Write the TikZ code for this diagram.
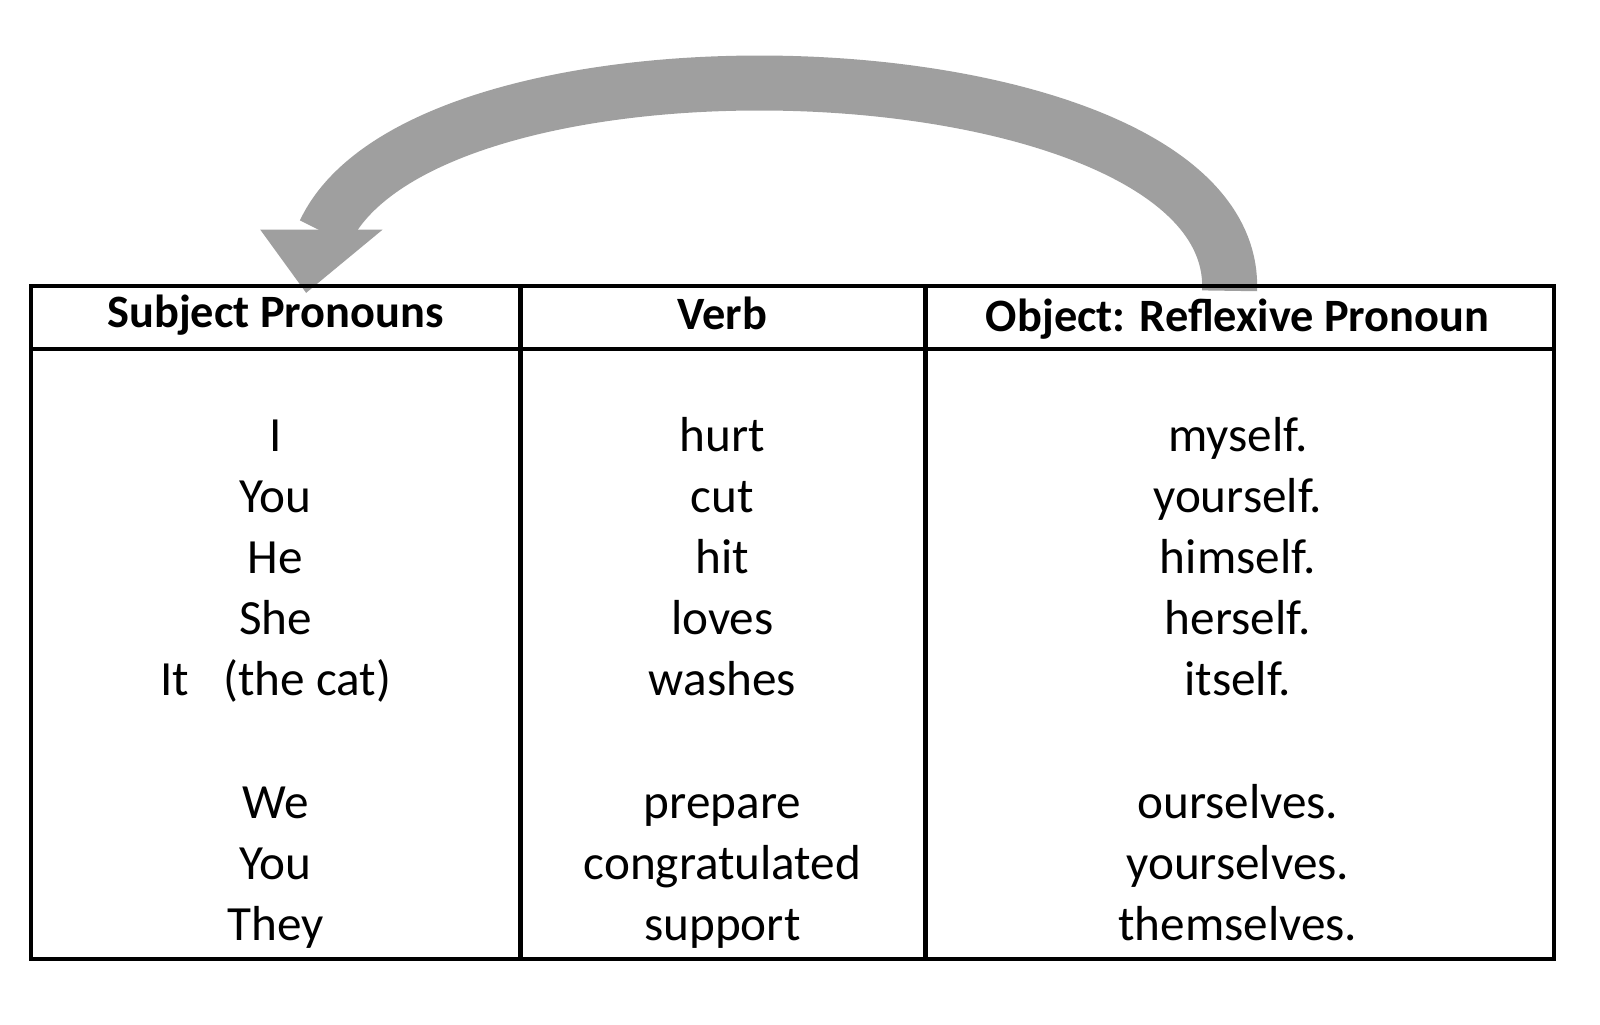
\documentclass[tikz,border=0pt]{standalone}
\usepackage{fontspec}
\setmainfont{Carlito}
\begin{document}
\begin{tikzpicture}[x=0.010204cm,y=-0.010204cm,
  cell/.style={font=\fontsize{14}{17}\selectfont,text height=1.6ex,text depth=0.4ex},
  head/.style={font=\fontsize{13.2}{16}\selectfont\bfseries,text height=1.6ex,text depth=0.4ex},
  rule/.style={line width=1.2pt}]
\useasboundingbox (0,0) rectangle (1568,1004);
% arrow
\coordinate (as) at (1205,285);
\coordinate (ae) at (318,228);
\draw[line width=0.55cm, gray!75] (as) .. controls (1215,40) and (420,10) .. (ae);
\fill[gray!75] (255,225) -- (375,225) -- (300,287) -- cycle;
% table
\draw[rule] (30,280) rectangle (1523,940);
\draw[rule] (30,342) -- (1523,342);
\draw[rule] (510,280) -- (510,940);
\draw[rule] (907,280) -- (907,940);
\node[head] (h1) at (270,311) {Subject Pronouns};
\node[head] (h2) at (708,313) {Verb};
\node[head] (h3) at (1213,315) {Object: Reflexive Pronoun};
\foreach \y/\a/\b/\c [count=\i] in {433/I/hurt/myself., 492/You/cut/yourself., 552/He/hit/himself., 612/She/loves/herself., 672/{It\hspace{0.7em}(the cat)}/washes/itself., 792/We/prepare/ourselves., 852/You/congratulated/yourselves., 912/They/support/themselves.}{
  \node[cell] (s\i) at (270,\y) {\a};
  \node[cell] (v\i) at (708,\y) {\b};
  \node[cell] (o\i) at (1213,\y) {\c};
}
\end{tikzpicture}
\end{document}
